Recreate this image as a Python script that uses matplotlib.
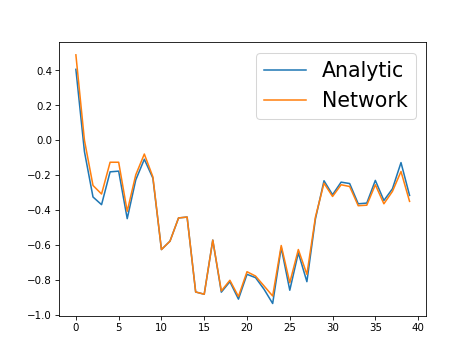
import matplotlib
matplotlib.use("Agg")
import matplotlib.pyplot as plt
import numpy as np

x = np.arange(40)
analytic = [0.406, -0.065, -0.325, -0.369, -0.181, -0.177, -0.449, -0.227, -0.109, -0.217,
            -0.626, -0.578, -0.445, -0.44, -0.869, -0.882, -0.572, -0.87, -0.81, -0.91,
            -0.768, -0.787, -0.854, -0.935, -0.615, -0.859, -0.645, -0.81, -0.45, -0.232,
            -0.312, -0.24, -0.248, -0.364, -0.36, -0.23, -0.345, -0.278, -0.128, -0.316]
network = [0.489, 0.0, -0.259, -0.308, -0.126, -0.126, -0.407, -0.198, -0.079, -0.21,
           -0.626, -0.578, -0.445, -0.44, -0.869, -0.882, -0.572, -0.863, -0.802, -0.895,
           -0.753, -0.778, -0.835, -0.892, -0.603, -0.816, -0.626, -0.768, -0.44, -0.246,
           -0.322, -0.255, -0.265, -0.375, -0.372, -0.255, -0.364, -0.293, -0.179, -0.35]

fig, ax = plt.subplots(figsize=(6.4, 4.8), dpi=74)
ax.plot(x, analytic, label="Analytic")
ax.plot(x, network, label="Network")
ax.legend(loc="upper right", fontsize=20)
fig.savefig("out.png", dpi=74)
